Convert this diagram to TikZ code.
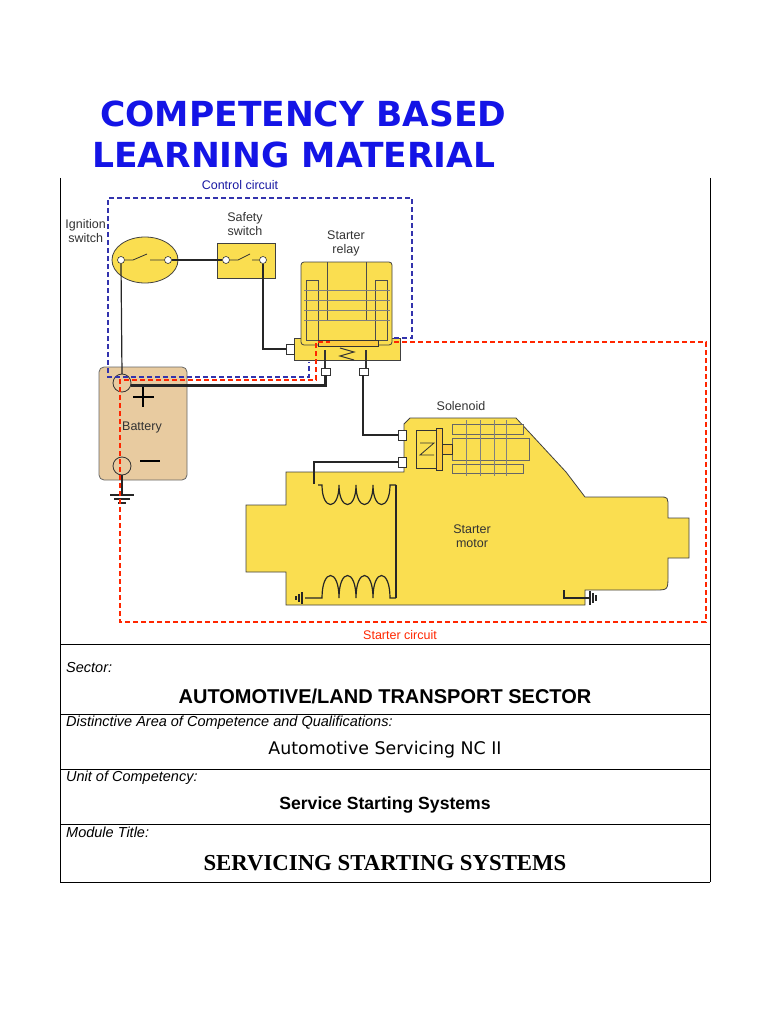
\documentclass[tikz,border=0pt]{standalone}
\usepackage{fontspec}
\setmainfont{Liberation Sans}
\newfontfamily\titlefont{DejaVu Sans}
\newfontfamily\serifb{Liberation Serif}
\begin{document}
\begin{tikzpicture}[x=1pt,y=-1pt,
  part/.style={draw=black!75,line width=0.8pt,fill=ylw},
  wire/.style={line width=2pt,black!85},
  thinwire/.style={line width=1.2pt,black!85},
  frame/.style={line width=0.6pt,black},
  bluedash/.style={draw=blue!60!black!80,dashed,line width=1.6pt,dash pattern=on 5pt off 3pt},
  reddash/.style={draw=red!70!orange,line width=1.6pt,dash pattern=on 5pt off 3pt},
  lab/.style={font=\fontsize{12.5}{14}\selectfont,text=black!80,align=center,inner sep=0pt},
  italab/.style={font=\itshape\fontsize{14.5}{16}\selectfont,anchor=west,inner sep=0pt},
  term/.style={draw=black!80,fill=white,line width=0.6pt}]
\useasboundingbox (0,0) rectangle (768,1024);
\definecolor{titleblue}{RGB}{20,20,230}
\definecolor{tan}{RGB}{232,203,160}
\definecolor{ylw}{RGB}{250,222,80}
% title
\node[font=\titlefont\bfseries\fontsize{34.5}{38}\selectfont,text=titleblue,anchor=base west,inner sep=0] (t1) at (100,127) {COMPETENCY BASED};
\node[font=\titlefont\bfseries\fontsize{34.5}{38}\selectfont,text=titleblue,anchor=base west,inner sep=0] (t2) at (92,168) {LEARNING MATERIAL};
% frame
\draw[frame] (60,178) -- (60,882) (710,178) -- (710,882);
\foreach \y in {644,714,769,824,882} \draw[frame] (60,\y) -- (710,\y);
% table text
\node[italab] (s1) at (66,668) {Sector:};
\node[font=\bfseries\fontsize{20}{22}\selectfont,inner sep=0] (s2) at (385,696) {AUTOMOTIVE/LAND TRANSPORT SECTOR};
\node[italab] (d1) at (66,723) {Distinctive Area of Competence and Qualifications:};
\node[font=\titlefont\fontsize{17.4}{20}\selectfont,inner sep=0] (d2) at (385,750) {Automotive Servicing NC II};
\node[italab] (u1) at (66,778) {Unit of Competency:};
\node[font=\bfseries\fontsize{17.6}{20}\selectfont,inner sep=0] (u2) at (385,805) {Service Starting Systems};
\node[italab] (m1) at (66,832) {Module Title:};
\node[font=\serifb\bfseries\fontsize{22.8}{25}\selectfont,inner sep=0] (m2) at (385,863) {SERVICING STARTING SYSTEMS};
% motor + solenoid body
\draw[part] (286,472) -- (404,472) -- (404,424) -- (410,418) -- (516,418) -- (566,472) -- (585,497) -- (660,497)
  .. controls (668,497) .. (668,508) -- (668,518) -- (689,518) -- (689,558) -- (668,558) -- (668,575)
  .. controls (668,590) .. (655,590) -- (585,590) -- (585,605) -- (286,605) -- (286,572) -- (246,572) -- (246,505) -- (286,505) -- cycle;
% field coils
\draw[thinwire] (396,485) -- (396,598);
\draw[thinwire] (318,485) -- (322,485) \foreach \i in {0,...,3} { .. controls +(0,26) and +(0,26) .. ++(17,0) } -- (396,485);
\draw[thinwire] (305,598) -- (322,598) \foreach \i in {0,...,3} { .. controls +(0,-30) and +(0,-30) .. ++(17,0) } -- (396,598);
\draw[thinwire] (302,592) -- (302,604) (299,594) -- (299,602) (296,596) -- (296,600);
% motor ground
\draw[thinwire] (564,590) -- (564,598) -- (590,598) (590,591) -- (590,605) (593,593) -- (593,603) (596,595) -- (596,601);
% solenoid internals
\draw[draw=black!60,fill=ylw,line width=0.6pt] (452,424) rectangle (523,434) (452,438) rectangle (529,460) (452,464) rectangle (523,473);
\foreach \x in {466,480,494,506} \draw[black!50,line width=0.6pt] (\x,420) -- (\x,476);
\draw[black!80,line width=0.8pt] (416,430) rectangle (440,468);
\draw[black!80,line width=1pt,fill=ylw!80!orange] (436,428) rectangle (442,470) (442,444) rectangle (452,454);
\draw[black!80,line width=0.8pt] (420,443) -- (434,443) -- (420,455) -- (434,455);
\node[lab] (sol) at (461,406) {Solenoid};
\node[lab] (mot) at (472,536) {Starter\\motor};
% battery
\draw[draw=black!60,fill=tan,line width=0.8pt,rounded corners=5pt] (99,367) rectangle (187,480);
\draw[black!80,line width=0.8pt] (122,383) circle (9) (122,466) circle (9);
\draw[line width=2pt] (133,397) -- (154,397) (143,387) -- (143,407) (140,461) -- (160,461);
\node[lab] (bat) at (142,427) {Battery};
\draw[thinwire] (122,475) -- (122,495);
\draw[thinwire] (110,495) -- (134,495) (114,499) -- (130,499) (118,503) -- (126,503);
% ignition switch
\draw[part] (145,260) ellipse (33 and 23);
\draw[term] (121,260) circle (3.5) (168,260) circle (3.5);
\draw[black!80,line width=0.8pt] (125,260) -- (133,260) -- (147,254) (150,260) -- (164,260);
\node[lab,anchor=east] (ign) at (106,231) {Ignition\\switch};
% safety switch
\draw[part] (217,243) rectangle (275,278);
\draw[term] (226,260) circle (3.5) (263,260) circle (3.5);
\draw[black!80,line width=0.8pt] (230,260) -- (238,260) -- (250,254) (252,260) -- (259,260);
\node[lab] (saf) at (245,224) {Safety\\switch};
% starter relay
\draw[part] (294,338) rectangle (400,360);
\draw[part,rounded corners=3pt] (301,262) rectangle (392,345);
\draw[black!70,line width=0.6pt] (327,262) -- (327,320) (366,262) -- (366,320) (306,280) rectangle (318,340) (375,280) rectangle (387,340);
\foreach \y in {290,300,310,320} \draw[black!50,line width=0.6pt] (304,\y) -- (390,\y);
\draw[black!80,line width=0.8pt,fill=ylw!80!orange] (318,340) rectangle (378,346);
\draw[black!80,line width=1pt] (340,348) -- (354,352) -- (340,356) -- (354,360);
\draw[black!80,line width=2pt] (325,350) -- (325,370) (366,350) -- (366,370);
\draw[term] (286,344) rectangle (294,354) (321,368) rectangle (330,375) (359,368) rectangle (368,375);
\node[lab] (rel) at (346,243) {Starter\\relay};
% wires
\draw[thinwire] (121,264) -- (122,374);
\draw[thinwire] (172,260) -- (222,260);
\draw[thinwire] (263,264) -- (263,349) -- (286,349);
\draw[wire,line width=3pt] (131,385) -- (325,385) -- (325,375);
\draw[wire] (363,375) -- (363,435) -- (404,435);
\draw[wire] (404,462) -- (314,462) -- (314,484);
\draw[term] (398,430) rectangle (406,440) (398,457) rectangle (406,467);
% circuits
\draw[bluedash] (394,338) -- (412,338) -- (412,198) -- (108,198) -- (108,377) -- (309,377) -- (309,362);
\draw[reddash] (394,342) -- (706,342) -- (706,622) -- (120,622) -- (120,380) -- (316,380) -- (316,342) -- (330,342);
\node[lab,text=blue!60!black!90] (cc) at (240,185) {Control circuit};
\node[lab,text=red!70!orange] (sc) at (400,635) {Starter circuit};
\end{tikzpicture}
\end{document}
